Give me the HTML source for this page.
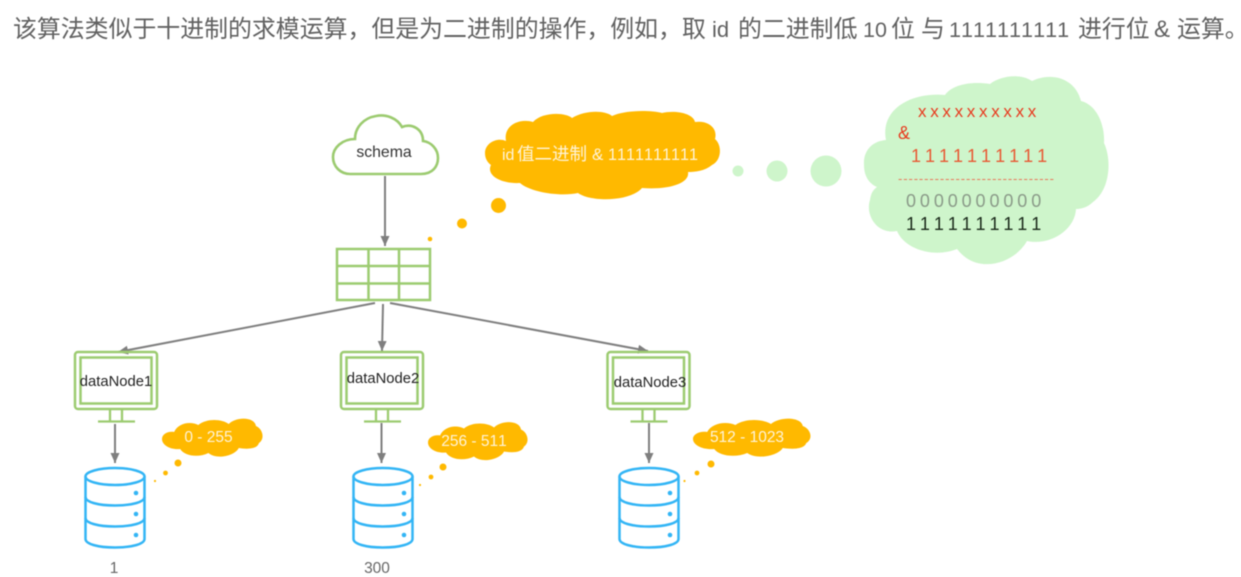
<!DOCTYPE html>
<html><head><meta charset="utf-8"><style>
html,body{margin:0;padding:0;background:#fff;width:1241px;height:577px;overflow:hidden}
svg{display:block;filter:blur(.4px)}
text{font-family:"Liberation Sans","Noto Sans CJK SC",sans-serif;font-kerning:none}
</style></head><body>
<svg width="1241" height="577" viewBox="0 0 1241 577" xmlns="http://www.w3.org/2000/svg">
<defs>
<marker id="a" markerUnits="userSpaceOnUse" markerWidth="11" markerHeight="10" refX="10" refY="4.500" orient="auto"><path d="M0 0L10 4.500L0 9Z" fill="#7f7f7f"/></marker>
<g id="db" fill="none" stroke="#33b5f5" stroke-width="2.500">
<ellipse cx="30" cy="9.500" rx="29.500" ry="8.500" fill="#fff"/>
<path d="M.5 9.500V72C.5 77 13 80.500 30 80.500S59.500 77 59.500 72V9.500"/>
<path d="M.5 30C.5 35 13 38.500 30 38.500S59.500 35 59.500 30"/>
<path d="M.5 51C.5 56 13 59.500 30 59.500S59.500 56 59.500 51"/>
<g fill="#33b5f5" stroke="none"><circle cx="51" cy="26" r="2.300"/><circle cx="51" cy="47" r="2.300"/><circle cx="51" cy="68" r="2.300"/></g>
</g>
<g id="mon" fill="none" stroke="#9ccb70">
<rect x="1" y="1" width="82" height="57" rx="3" stroke-width="2.500"/>
<rect x="6.500" y="6.500" width="71" height="46" stroke-width="2.500"/>
<path d="M36 59V70M48 59V70M24 70.500H61" stroke-width="2.300"/>
</g>
<path id="oc" fill="#ffb900" d="M0 22C0 17 6 14 12 15C16 6 28 4 36 8C44 1 60 2 66 7C74 -1 92 0 93 9C100 12 102 22 96 26C94 33 82 32 76 31C72 39 54 43 46 36C36 41 22 39 18 32C8 33 0 28 0 22Z"/>
</defs>

<g font-size="23.900" fill="#616161">
<text x="13" y="37">该算法类似于十进制的求模运算，但是为二进制的操作，例如，取</text>
<text x="712" y="37" font-size="22">id</text>
<text x="738" y="37">的二进制低</text>
<text x="863" y="37" font-size="21.500">10</text>
<text x="891" y="37">位</text>
<text x="921" y="37">与</text>
<text x="949" y="37" font-size="21.600">1111111111</text>
<text x="1078" y="37">进行位</text>
<text x="1154" y="37" font-size="24">&amp;</text>
<text x="1177" y="37">运算。</text>
</g>

<!-- schema -->
<path d="M350 174H421C433 174 438 166 438 158C438 149 431 142 423 141C423 129 412 123 402 127C397 118 386 114 376 116C364 118 355 127 355 139C342 139 333 148 333 157C333 167 341 174 350 174Z" fill="#fff" stroke="#9ccb70" stroke-width="2.600"/>
<text x="384" y="157" font-size="15.800" fill="#333" text-anchor="middle">schema</text>
<line x1="385" y1="176" x2="385" y2="246" stroke="#7f7f7f" stroke-width="2" marker-end="url(#a)"/>

<!-- table -->
<g fill="none" stroke="#9ccb70" stroke-width="2.500"><rect x="337" y="249" width="93" height="51"/><path d="M368.500 249V300M399 249V300M337 266H430M337 283.500H430"/></g>

<!-- connectors -->
<g stroke="#7f7f7f" stroke-width="2" fill="none" marker-end="url(#a)">
<line x1="375" y1="303" x2="118" y2="352"/>
<line x1="383" y1="304" x2="382" y2="351"/>
<line x1="390" y1="303" x2="648" y2="351"/>
<line x1="115" y1="424" x2="115" y2="463"/>
<line x1="381.500" y1="423" x2="381.500" y2="463"/>
<line x1="649" y1="423" x2="649" y2="463"/>
</g>

<use href="#mon" x="74" y="351"/><use href="#mon" x="340" y="351"/><use href="#mon" x="606.500" y="351"/>
<g font-size="14.800" fill="#222" text-anchor="middle">
<text x="116" y="386">dataNode1</text><text x="383" y="383">dataNode2</text><text x="650" y="387">dataNode3</text>
</g>
<use href="#db" x="85" y="467"/><use href="#db" x="353" y="467"/><use href="#db" x="619" y="467"/>
<text x="114" y="573" font-size="15.500" fill="#666" text-anchor="middle">1</text>
<text x="377" y="573" font-size="15.500" fill="#666" text-anchor="middle">300</text>

<!-- big orange cloud -->
<path fill="#ffb900" d="M485 153C485 143 497 137 506 141C503 125 520 118 533 122C542 112 565 112 572 118C585 110 605 110 612 116C625 110 650 110 662 113C675 110 693 113 695 122C708 120 718 128 715 139C722 145 722 160 712 165C705 171 695 172 688 172C690 183 670 190 642 188C630 202 590 202 578 193C560 197 530 192 520 183C500 184 486 175 491 165C487 162 485 158 485 153Z"/>
<g fill="#fff4d8">
<text x="502" y="160" font-size="16">id</text>
<text x="517" y="160" font-size="17.500">值二进制</text>
<text x="592" y="160" font-size="17">&amp;</text>
<text x="608" y="160" font-size="16.200">1111111111</text>
</g>
<circle cx="498.500" cy="205.500" r="7.500" fill="#ffb900"/><circle cx="462" cy="223.500" r="5" fill="#ffb900"/><circle cx="430" cy="239" r="2.300" fill="#ffb900"/>

<!-- green bubbles and cloud -->
<circle cx="826" cy="171" r="15.500" fill="#cef5cb"/><circle cx="777" cy="171" r="10.500" fill="#cef5cb"/><circle cx="738" cy="171" r="5.500" fill="#cef5cb"/>
<path fill="#cef5cb" d="M864 165C863 150 873 141 886 140C880 110 910 92 945 95C952 85 970 81 990 84C1000 76 1020 73 1032 81C1050 72 1075 77 1081 101C1097 105 1105 125 1104 143C1112 160 1110 190 1093 202C1087 208 1080 209 1076 209C1075 230 1050 246 1027 241C1015 262 985 272 965 257C960 253 958 250 957 249C935 258 905 250 897 231C877 235 865 215 870 200C871 193 873 190 877 187C868 183 864 175 864 165Z"/>
<g font-size="18">
<text x="918" y="117" font-size="17" fill="#e8391d" letter-spacing="3.700">xxxxxxxxxx</text>
<text x="898" y="139" fill="#e8391d">&amp;</text>
<text x="911" y="162" fill="#e85a35" letter-spacing="4">1111111111</text>
<text x="898" y="183" font-size="13" fill="#e8795c" textLength="156" lengthAdjust="spacing">------------------------------</text>
<text x="906" y="207" fill="#8a9a88" letter-spacing="3.900">0000000000</text>
<text x="906" y="230" fill="#1b2a1b" letter-spacing="3.900">1111111111</text>
</g>

<!-- small clouds -->
<use href="#oc" transform="translate(162 417) scale(1.010 1)"/>
<use href="#oc" transform="translate(428 420.500) scale(1 1)"/>
<use href="#oc" transform="translate(693 417) scale(1.180 1)"/>
<g font-size="15.500" fill="#fff4d8" text-anchor="middle">
<text x="208.500" y="442">0 - 255</text><text x="474" y="446">256 - 511</text><text x="747" y="442">512 - 1023</text>
</g>
<g fill="#ffb900">
<circle cx="178" cy="463" r="3.500"/><circle cx="165.500" cy="473" r="2.400"/><circle cx="155" cy="481" r="1.100"/>
<circle cx="443" cy="467" r="3.500"/><circle cx="431" cy="477" r="2.400"/><circle cx="420" cy="485" r="1.100"/>
<circle cx="711" cy="464" r="3.500"/><circle cx="697" cy="473" r="2.400"/><circle cx="684.500" cy="481" r="1.100"/>
</g>
</svg>
</body></html>
